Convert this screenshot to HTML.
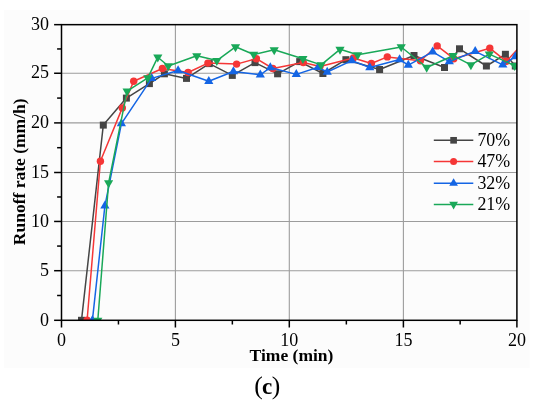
<!DOCTYPE html>
<html><head><meta charset="utf-8"><title>Runoff rate chart</title>
<style>
html,body{margin:0;padding:0;background:#fff;}
body{width:550px;height:414px;overflow:hidden;}
svg{display:block;}
text{font-family:"Liberation Serif","Times New Roman",serif;fill:#000;}
</style></head><body>
<svg width="550" height="414" viewBox="0 0 550 414">
<rect x="0" y="0" width="550" height="414" fill="#ffffff"/>
<rect x="4" y="10" width="525.7" height="358" fill="#fcfcfc"/>
<g stroke="#9c9c9c" stroke-width="1.1"><line x1="175.4" y1="24.66" x2="175.4" y2="320.3"/><line x1="289.3" y1="24.66" x2="289.3" y2="320.3"/><line x1="403.4" y1="24.66" x2="403.4" y2="320.3"/><line x1="61.5" y1="270.7" x2="516.9" y2="270.7"/><line x1="61.5" y1="221.45" x2="516.9" y2="221.45"/><line x1="61.5" y1="172.5" x2="516.9" y2="172.5"/><line x1="61.5" y1="122.9" x2="516.9" y2="122.9"/><line x1="61.5" y1="73.25" x2="516.9" y2="73.25"/></g>
<defs><clipPath id="pc"><rect x="61.5" y="24.66" width="455.40" height="295.64"/></clipPath></defs>
<g clip-path="url(#pc)">
<polyline points="81.5,320.3 103.3,125.1 126.4,98.1 149.4,83.6 164.4,73.8 186.5,78.4 209.3,63.6 232.3,75.4 255.0,62.6 277.6,73.8 299.7,61.6 322.9,73.5 345.9,59.7 379.6,69.5 414.0,55.5 444.5,67.5 459.5,48.8 486.4,66.0 505.4,54.3 515.3,66.0" fill="none" stroke="#454545" stroke-width="1.5" stroke-linejoin="round"/>
<rect x="78.00" y="316.80" width="7.00" height="7.00" fill="#454545"/>
<rect x="99.80" y="121.60" width="7.00" height="7.00" fill="#454545"/>
<rect x="122.90" y="94.60" width="7.00" height="7.00" fill="#454545"/>
<rect x="145.90" y="80.10" width="7.00" height="7.00" fill="#454545"/>
<rect x="160.90" y="70.30" width="7.00" height="7.00" fill="#454545"/>
<rect x="183.00" y="74.90" width="7.00" height="7.00" fill="#454545"/>
<rect x="205.80" y="60.10" width="7.00" height="7.00" fill="#454545"/>
<rect x="228.80" y="71.90" width="7.00" height="7.00" fill="#454545"/>
<rect x="251.50" y="59.10" width="7.00" height="7.00" fill="#454545"/>
<rect x="274.10" y="70.30" width="7.00" height="7.00" fill="#454545"/>
<rect x="296.20" y="58.10" width="7.00" height="7.00" fill="#454545"/>
<rect x="319.40" y="70.00" width="7.00" height="7.00" fill="#454545"/>
<rect x="342.40" y="56.20" width="7.00" height="7.00" fill="#454545"/>
<rect x="376.10" y="66.00" width="7.00" height="7.00" fill="#454545"/>
<rect x="410.50" y="52.00" width="7.00" height="7.00" fill="#454545"/>
<rect x="441.00" y="64.00" width="7.00" height="7.00" fill="#454545"/>
<rect x="456.00" y="45.30" width="7.00" height="7.00" fill="#454545"/>
<rect x="482.90" y="62.50" width="7.00" height="7.00" fill="#454545"/>
<rect x="501.90" y="50.80" width="7.00" height="7.00" fill="#454545"/>
<rect x="511.80" y="62.50" width="7.00" height="7.00" fill="#454545"/>
<polyline points="87.1,320.3 100.4,161.2 122.3,107.9 133.7,81.3 162.4,68.5 188.1,72.5 207.9,63.1 236.6,64.1 256.4,58.7 272.8,68.5 303.3,62.6 320.0,66.5 353.4,58.0 371.4,63.5 387.3,56.9 420.4,60.8 437.2,45.9 453.8,58.7 489.8,48.2 506.3,61.3 529.5,36.5" fill="none" stroke="#F53636" stroke-width="1.5" stroke-linejoin="round"/>
<circle cx="87.10" cy="320.30" r="3.70" fill="#F53636"/>
<circle cx="100.40" cy="161.20" r="3.70" fill="#F53636"/>
<circle cx="122.30" cy="107.90" r="3.70" fill="#F53636"/>
<circle cx="133.70" cy="81.30" r="3.70" fill="#F53636"/>
<circle cx="162.40" cy="68.50" r="3.70" fill="#F53636"/>
<circle cx="188.10" cy="72.50" r="3.70" fill="#F53636"/>
<circle cx="207.90" cy="63.10" r="3.70" fill="#F53636"/>
<circle cx="236.60" cy="64.10" r="3.70" fill="#F53636"/>
<circle cx="256.40" cy="58.70" r="3.70" fill="#F53636"/>
<circle cx="272.80" cy="68.50" r="3.70" fill="#F53636"/>
<circle cx="303.30" cy="62.60" r="3.70" fill="#F53636"/>
<circle cx="320.00" cy="66.50" r="3.70" fill="#F53636"/>
<circle cx="353.40" cy="58.00" r="3.70" fill="#F53636"/>
<circle cx="371.40" cy="63.50" r="3.70" fill="#F53636"/>
<circle cx="387.30" cy="56.90" r="3.70" fill="#F53636"/>
<circle cx="420.40" cy="60.80" r="3.70" fill="#F53636"/>
<circle cx="437.20" cy="45.90" r="3.70" fill="#F53636"/>
<circle cx="453.80" cy="58.70" r="3.70" fill="#F53636"/>
<circle cx="489.80" cy="48.20" r="3.70" fill="#F53636"/>
<circle cx="506.30" cy="61.30" r="3.70" fill="#F53636"/>
<circle cx="529.50" cy="36.50" r="3.70" fill="#F53636"/>
<polyline points="92.4,320.3 104.9,205.8 121.4,123.7 151.7,78.4 178.1,70.5 208.8,81.3 233.4,71.5 260.3,74.8 270.3,67.5 296.3,74.4 318.1,67.3 327.2,72.0 351.8,60.6 369.8,67.5 399.6,59.5 408.3,65.1 432.7,51.8 449.3,61.6 475.2,51.3 502.8,64.9 515.3,56.7" fill="none" stroke="#1465E4" stroke-width="1.5" stroke-linejoin="round"/>
<polygon points="92.40,314.97 97.00,322.97 87.80,322.97" fill="#1465E4"/>
<polygon points="104.90,200.47 109.50,208.47 100.30,208.47" fill="#1465E4"/>
<polygon points="121.40,118.37 126.00,126.37 116.80,126.37" fill="#1465E4"/>
<polygon points="151.70,73.07 156.30,81.07 147.10,81.07" fill="#1465E4"/>
<polygon points="178.10,65.17 182.70,73.17 173.50,73.17" fill="#1465E4"/>
<polygon points="208.80,75.97 213.40,83.97 204.20,83.97" fill="#1465E4"/>
<polygon points="233.40,66.17 238.00,74.17 228.80,74.17" fill="#1465E4"/>
<polygon points="260.30,69.47 264.90,77.47 255.70,77.47" fill="#1465E4"/>
<polygon points="270.30,62.17 274.90,70.17 265.70,70.17" fill="#1465E4"/>
<polygon points="296.30,69.07 300.90,77.07 291.70,77.07" fill="#1465E4"/>
<polygon points="318.10,61.97 322.70,69.97 313.50,69.97" fill="#1465E4"/>
<polygon points="327.20,66.67 331.80,74.67 322.60,74.67" fill="#1465E4"/>
<polygon points="351.80,55.27 356.40,63.27 347.20,63.27" fill="#1465E4"/>
<polygon points="369.80,62.17 374.40,70.17 365.20,70.17" fill="#1465E4"/>
<polygon points="399.60,54.17 404.20,62.17 395.00,62.17" fill="#1465E4"/>
<polygon points="408.30,59.77 412.90,67.77 403.70,67.77" fill="#1465E4"/>
<polygon points="432.70,46.47 437.30,54.47 428.10,54.47" fill="#1465E4"/>
<polygon points="449.30,56.27 453.90,64.27 444.70,64.27" fill="#1465E4"/>
<polygon points="475.20,45.97 479.80,53.97 470.60,53.97" fill="#1465E4"/>
<polygon points="502.80,59.57 507.40,67.57 498.20,67.57" fill="#1465E4"/>
<polygon points="515.30,51.37 519.90,59.37 510.70,59.37" fill="#1465E4"/>
<polyline points="97.8,320.3 108.6,182.8 127.1,91.2 147.8,77.8 157.8,57.2 168.3,66.0 196.8,55.8 216.8,60.6 235.5,46.8 253.7,54.5 274.2,49.8 302.9,58.7 321.1,64.9 340.0,49.3 357.7,54.8 401.2,47.0 426.7,67.5 453.1,55.7 470.9,64.9 489.3,54.1 514.6,65.6" fill="none" stroke="#19A858" stroke-width="1.5" stroke-linejoin="round"/>
<polygon points="97.80,325.63 102.40,317.63 93.20,317.63" fill="#19A858"/>
<polygon points="108.60,188.13 113.20,180.13 104.00,180.13" fill="#19A858"/>
<polygon points="127.10,96.53 131.70,88.53 122.50,88.53" fill="#19A858"/>
<polygon points="147.80,83.13 152.40,75.13 143.20,75.13" fill="#19A858"/>
<polygon points="157.80,62.53 162.40,54.53 153.20,54.53" fill="#19A858"/>
<polygon points="168.30,71.33 172.90,63.33 163.70,63.33" fill="#19A858"/>
<polygon points="196.80,61.13 201.40,53.13 192.20,53.13" fill="#19A858"/>
<polygon points="216.80,65.93 221.40,57.93 212.20,57.93" fill="#19A858"/>
<polygon points="235.50,52.13 240.10,44.13 230.90,44.13" fill="#19A858"/>
<polygon points="253.70,59.83 258.30,51.83 249.10,51.83" fill="#19A858"/>
<polygon points="274.20,55.13 278.80,47.13 269.60,47.13" fill="#19A858"/>
<polygon points="302.90,64.03 307.50,56.03 298.30,56.03" fill="#19A858"/>
<polygon points="321.10,70.23 325.70,62.23 316.50,62.23" fill="#19A858"/>
<polygon points="340.00,54.63 344.60,46.63 335.40,46.63" fill="#19A858"/>
<polygon points="357.70,60.13 362.30,52.13 353.10,52.13" fill="#19A858"/>
<polygon points="401.20,52.33 405.80,44.33 396.60,44.33" fill="#19A858"/>
<polygon points="426.70,72.83 431.30,64.83 422.10,64.83" fill="#19A858"/>
<polygon points="453.10,61.03 457.70,53.03 448.50,53.03" fill="#19A858"/>
<polygon points="470.90,70.23 475.50,62.23 466.30,62.23" fill="#19A858"/>
<polygon points="489.30,59.43 493.90,51.43 484.70,51.43" fill="#19A858"/>
<polygon points="514.60,70.93 519.20,62.93 510.00,62.93" fill="#19A858"/>
</g>
<g stroke="#000" stroke-width="1.5" fill="none"><rect x="61.5" y="24.66" width="455.40" height="295.64" fill="none"/><line x1="54.10" y1="320.3" x2="61.5" y2="320.3"/><line x1="54.10" y1="270.7" x2="61.5" y2="270.7"/><line x1="54.10" y1="221.45" x2="61.5" y2="221.45"/><line x1="54.10" y1="172.5" x2="61.5" y2="172.5"/><line x1="54.10" y1="122.9" x2="61.5" y2="122.9"/><line x1="54.10" y1="73.25" x2="61.5" y2="73.25"/><line x1="54.10" y1="24.66" x2="61.5" y2="24.66"/><line x1="57.10" y1="295.50" x2="61.5" y2="295.50"/><line x1="57.10" y1="246.07" x2="61.5" y2="246.07"/><line x1="57.10" y1="196.97" x2="61.5" y2="196.97"/><line x1="57.10" y1="147.70" x2="61.5" y2="147.70"/><line x1="57.10" y1="98.08" x2="61.5" y2="98.08"/><line x1="57.10" y1="48.95" x2="61.5" y2="48.95"/><line x1="61.5" y1="320.3" x2="61.5" y2="327.50"/><line x1="175.4" y1="320.3" x2="175.4" y2="327.50"/><line x1="289.3" y1="320.3" x2="289.3" y2="327.50"/><line x1="403.4" y1="320.3" x2="403.4" y2="327.50"/><line x1="516.9" y1="320.3" x2="516.9" y2="327.50"/><line x1="118.45" y1="320.3" x2="118.45" y2="324.50"/><line x1="232.35" y1="320.3" x2="232.35" y2="324.50"/><line x1="346.35" y1="320.3" x2="346.35" y2="324.50"/><line x1="460.15" y1="320.3" x2="460.15" y2="324.50"/></g>
<g font-size="18"><text x="48.90" y="325.50" text-anchor="end">0</text><text x="48.90" y="275.90" text-anchor="end">5</text><text x="48.90" y="226.65" text-anchor="end">10</text><text x="48.90" y="177.70" text-anchor="end">15</text><text x="48.90" y="128.10" text-anchor="end">20</text><text x="48.90" y="78.45" text-anchor="end">25</text><text x="48.90" y="29.86" text-anchor="end">30</text><text x="61.50" y="345.8" text-anchor="middle">0</text><text x="175.40" y="345.8" text-anchor="middle">5</text><text x="289.30" y="345.8" text-anchor="middle">10</text><text x="403.40" y="345.8" text-anchor="middle">15</text><text x="516.90" y="345.8" text-anchor="middle">20</text></g>
<text x="291.5" y="361.2" text-anchor="middle" font-size="17.5" font-weight="bold">Time (min)</text>
<text transform="translate(24.7,171.8) rotate(-90)" x="0" y="0" text-anchor="middle" font-size="17.5" font-weight="bold">Runoff rate (mm/h)</text>
<text x="254.3" y="394.2" font-size="25.6">(<tspan font-weight="bold" font-size="23" dx="-0.8">c</tspan><tspan dx="-0.6">)</tspan></text>
<line x1="433.8" y1="140.3" x2="473.3" y2="140.3" stroke="#454545" stroke-width="1.5"/><rect x="450.28" y="136.98" width="6.65" height="6.65" fill="#454545"/><text x="477.4" y="146.10" font-size="17.9">70%</text><line x1="433.8" y1="161.4" x2="473.3" y2="161.4" stroke="#F53636" stroke-width="1.5"/><circle cx="453.60" cy="161.40" r="3.52" fill="#F53636"/><text x="477.4" y="167.20" font-size="17.9">47%</text><line x1="433.8" y1="183.3" x2="473.3" y2="183.3" stroke="#1465E4" stroke-width="1.5"/><polygon points="453.60,178.23 457.97,185.83 449.23,185.83" fill="#1465E4"/><text x="477.4" y="189.10" font-size="17.9">32%</text><line x1="433.8" y1="204.4" x2="473.3" y2="204.4" stroke="#19A858" stroke-width="1.5"/><polygon points="453.60,209.47 457.97,201.87 449.23,201.87" fill="#19A858"/><text x="477.4" y="210.20" font-size="17.9">21%</text>
</svg>
</body></html>
